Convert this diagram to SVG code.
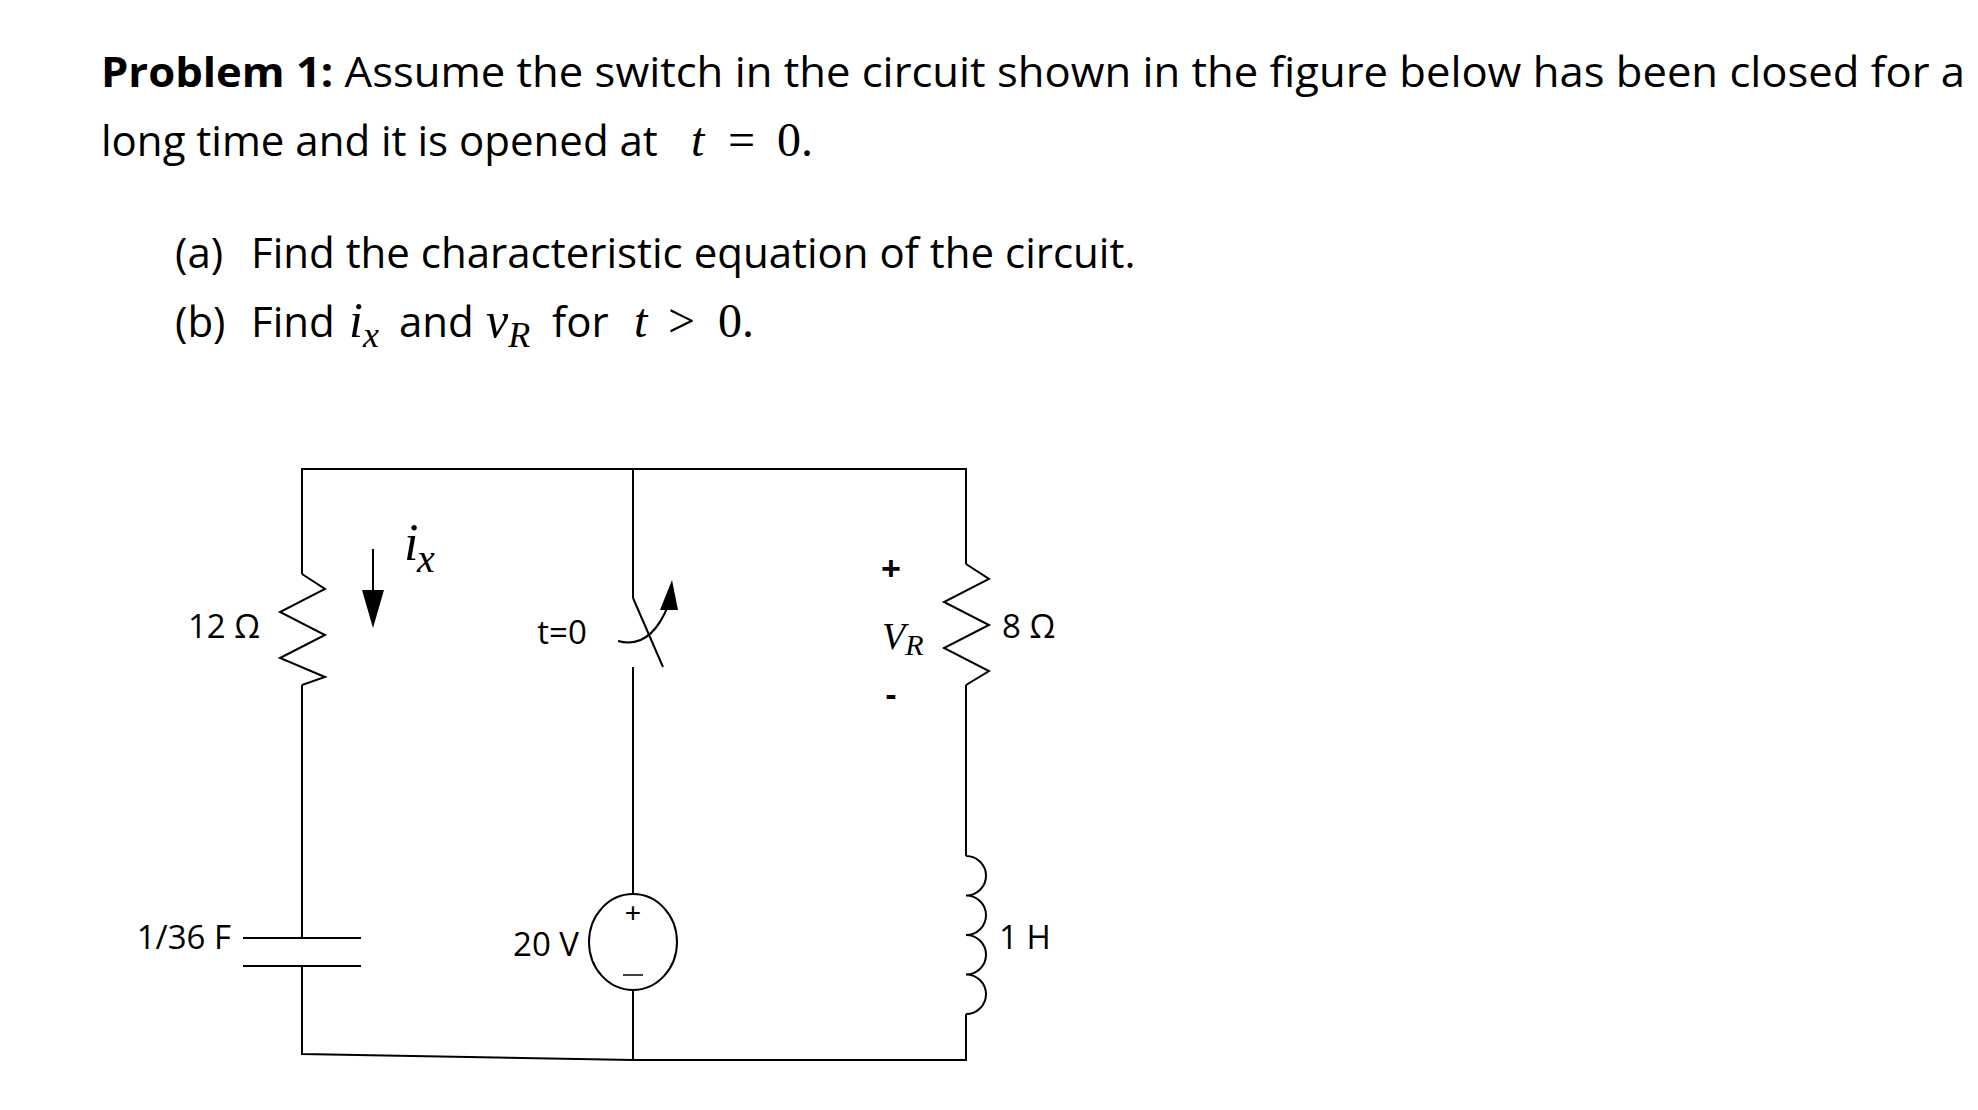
<svg xmlns="http://www.w3.org/2000/svg" width="1978" height="1110" viewBox="0 0 1978 1110">
<style>
.t{font-family:"Open Sans","Liberation Sans",sans-serif;font-size:42px;fill:#000}
.m{font-family:"Liberation Serif",serif;font-style:italic}
.c{font-family:"Open Sans","Liberation Sans",sans-serif;font-size:33px;fill:#000}
.w{fill:none;stroke:#000;stroke-width:2}
</style>
<rect width="1978" height="1110" fill="#fff"/>
<g id="text">
<text class="t" x="101" y="87" textLength="1864" lengthAdjust="spacingAndGlyphs"><tspan font-weight="bold">Problem 1:</tspan> Assume the switch in the circuit shown in the figure below has been closed for a</text>
<text class="t" x="101" y="156">long time and it is opened at<tspan class="m" font-size="48" x="691">t</tspan><tspan font-family="Liberation Serif" font-size="48" x="728">=</tspan><tspan font-family="Liberation Serif" font-size="48" x="777">0.</tspan></text>
<text class="t" x="175" y="268">(a)<tspan x="251">Find the characteristic equation of the circuit.</tspan></text>
<text class="t" x="175" y="337">(b)<tspan x="251">Find</tspan><tspan class="m" font-size="50" x="349">i</tspan><tspan class="m" font-size="36" dy="10">x</tspan><tspan dy="-10" x="399">and</tspan><tspan class="m" font-size="50" x="486">v</tspan><tspan class="m" font-size="36" dy="10">R</tspan><tspan dy="-10" x="552">for</tspan><tspan class="m" font-size="48" x="634">t</tspan><tspan font-family="Liberation Serif" font-size="48" x="668">&gt;</tspan><tspan font-family="Liberation Serif" font-size="48" x="718">0.</tspan></text>
</g>
<g id="wires">
<polyline class="w" points="302,574 302,469 966,469 966,564"/>
<line class="w" x1="633" y1="469" x2="633" y2="598"/>
<polyline class="w" points="302,685 302,938"/>
<polyline class="w" points="302,966 302,1054 633,1060 966,1060 966,1014"/>
<line class="w" x1="633" y1="667" x2="633" y2="895"/>
<line class="w" x1="633" y1="989" x2="633" y2="1060"/>
<line class="w" x1="966" y1="685" x2="966" y2="856"/>
</g>
<g id="R12"><polyline class="w" points="302,574 325,589 280,612 325,635 280,658 325,677 302,685"/>
<text class="c" x="188" y="638">12 Ω</text></g>
<g id="C"><line class="w" x1="243" y1="938" x2="361" y2="938"/><line class="w" x1="243" y1="966" x2="361" y2="966"/>
<text class="c" x="231" y="949" text-anchor="end">1/36  F</text></g>
<g id="ix"><line class="w" x1="373" y1="549" x2="373" y2="595"/><polygon points="362,590 384,590 373,628"/>
<text class="m" x="404" y="560" font-size="52">i</text><text class="m" x="417" y="572" font-size="40">x</text></g>
<g id="switch"><line class="w" x1="633" y1="598" x2="663" y2="667"/>
<path class="w" d="M618,641 Q650,650 668,606"/><polygon points="660,610 678,610 672,580"/>
<text class="c" x="562" y="644" text-anchor="middle">t=0</text></g>
<g id="V20"><ellipse class="w" cx="633" cy="942" rx="44" ry="48"/>
<text x="633" y="922" font-family="Liberation Sans" font-size="28" text-anchor="middle">+</text>
<line x1="623" y1="975" x2="643" y2="975" stroke="#000" stroke-width="1.5"/>
<text class="c" x="579" y="956" text-anchor="end">20 V</text></g>
<g id="R8"><polyline class="w" points="966,564 989,579 944,602 989,625 944,648 989,671 966,685"/>
<text class="c" x="1002" y="638">8 Ω</text>
<text x="891" y="580" font-family="Liberation Sans" font-weight="bold" font-size="34" text-anchor="middle">+</text>
<text x="891" y="706" font-family="Liberation Sans" font-weight="bold" font-size="34" text-anchor="middle">-</text>
<text class="m" x="882" y="649" font-size="38">V<tspan font-size="30" dy="6">R</tspan></text></g>
<g id="L"><path class="w" d="M966,856 a20,19.75 0 0 1 0,39.5 a20,19.75 0 0 1 0,39.5 a20,19.75 0 0 1 0,39.5 a20,19.75 0 0 1 0,39.5"/>
<text class="c" x="999" y="949">1 H</text></g>
</svg>
